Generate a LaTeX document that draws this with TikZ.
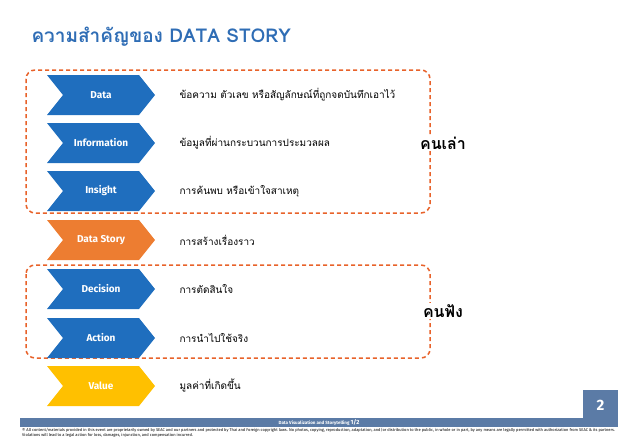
\documentclass[tikz,border=0pt]{standalone}
\usepackage{fontspec}
\setmainfont[Script=Thai]{Loma}
\newfontfamily\lat{Fira Sans}
\usetikzlibrary{calc}
\definecolor{cblue}{HTML}{1F6EBE}
\definecolor{corange}{HTML}{ED7D31}
\definecolor{cgold}{HTML}{FFC000}
\definecolor{ctitle}{HTML}{2F6DB5}
\definecolor{cbar}{HTML}{5B7BA6}
\definecolor{cdash}{HTML}{E8622A}
\newcommand{\chev}[4]{%
  \fill[#3] (47,#2-20) -- (139,#2-20) -- (155,#2) -- (139,#2+20) -- (47,#2+20) -- (63,#2) -- cycle;
  \node[chevtxt] (#1) at (101,#2) {#4};}
\tikzset{
  chevtxt/.style={text=white,font=\lat\bfseries\fontsize{10}{12}\selectfont},
  desc/.style={anchor=west,font=\fontsize{10}{12}\selectfont},
  grp/.style={draw=cdash,line width=1.5pt,rounded corners=9pt,dash pattern=on 4pt off 3pt},
  who/.style={fill=white,font=\bfseries\fontsize{16}{18}\selectfont,inner sep=2pt}
}
\begin{document}
\begin{tikzpicture}[x=1pt,y=-1pt]
\useasboundingbox (0,0) rectangle (638,442);
\node[anchor=west,text=ctitle,font=\bfseries\fontsize{19}{22}\selectfont] (title) at (28,37) {ความสำคัญของ DATA STORY};
\draw[grp] (26,70) rectangle (430,213);
\draw[grp] (26,265) rectangle (430,358);
\chev{c1}{95}{cblue}{Data}
\chev{c2}{143}{cblue}{Information}
\chev{c3}{191}{cblue}{Insight}
\chev{c4}{240}{corange}{Data Story}
\chev{c5}{289}{cblue}{Decision}
\chev{c6}{338}{cblue}{Action}
\chev{c7}{386}{cgold}{Value}
\node[desc] (d1) at (176,95) {ข้อความ ตัวเลข หรือสัญลักษณ์ที่ถูกจดบันทึกเอาไว้};
\node[desc] (d2) at (176,143) {ข้อมูลที่ผ่านกระบวนการประมวลผล};
\node[desc] (d3) at (176,191) {การค้นพบ หรือเข้าใจสาเหตุ};
\node[desc] (d4) at (176,240) {การสร้างเรื่องราว};
\node[desc] (d5) at (176,289) {การตัดสินใจ};
\node[desc] (d6) at (176,338) {การนำไปใช้จริง};
\node[desc] (d7) at (176,386) {มูลค่าที่เกิดขึ้น};
\node[who] (w1) at (443,143) {คนเล่า};
\node[who] (w2) at (443,311) {คนฟัง};
\fill[cbar] (583,390) rectangle (618,418);
\node[text=white,font=\lat\bfseries\fontsize{15}{17}\selectfont] (pg) at (600.5,405) {2};
\fill[cbar] (20,418) rectangle (618,427);
\node[text=white,font=\lat\bfseries\fontsize{4.5}{5}\selectfont] (ft) at (319,422.5) {Data Visualization and Storytelling \fontsize{6}{6}\selectfont 1/2};
\node[anchor=north west,align=left,inner sep=0pt,font=\lat\fontsize{4}{4.6}\selectfont] (cr) at (22,428.5) {© All content/materials provided in this event are proprietarily owned by SEAC and our partners and protected by Thai and Foreign copyright laws. No photos, copying, reproduction, adaptation, and/or distribution to the public, in whole or in part, by any means are legally permitted with authorization from SEAC \& its partners.\\Violations will lead to a legal action for loss, damages, injunction, and compensation incurred.};
\end{tikzpicture}
\end{document}
